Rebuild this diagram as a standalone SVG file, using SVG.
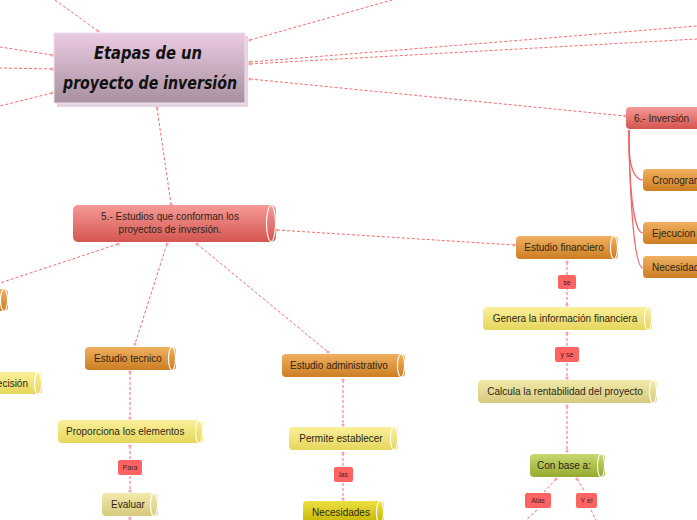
<svg xmlns="http://www.w3.org/2000/svg" width="697" height="520" viewBox="0 0 697 520">
<defs>
<linearGradient id="gMain" x1="0" y1="0" x2="0" y2="1"><stop offset="0" stop-color="#ebcbe3"/><stop offset="1" stop-color="#a8909f"/></linearGradient>
<linearGradient id="gRed" x1="0" y1="0" x2="0" y2="1"><stop offset="0" stop-color="#f69a96"/><stop offset="1" stop-color="#d45550"/></linearGradient>
<linearGradient id="gOr" x1="0" y1="0" x2="0" y2="1"><stop offset="0" stop-color="#f0b060"/><stop offset="1" stop-color="#cc7e22"/></linearGradient>
<linearGradient id="gYe" x1="0" y1="0" x2="0" y2="1"><stop offset="0" stop-color="#faf09a"/><stop offset="1" stop-color="#e6d65c"/></linearGradient>
<linearGradient id="gKh" x1="0" y1="0" x2="0" y2="1"><stop offset="0" stop-color="#f2eaaa"/><stop offset="1" stop-color="#d6ca7e"/></linearGradient>
<linearGradient id="gOl" x1="0" y1="0" x2="0" y2="1"><stop offset="0" stop-color="#ece040"/><stop offset="1" stop-color="#c4b400"/></linearGradient>
<linearGradient id="gGr" x1="0" y1="0" x2="0" y2="1"><stop offset="0" stop-color="#c8d870"/><stop offset="1" stop-color="#96aa2e"/></linearGradient>
</defs>
<style>
.c{fill:none;stroke:#f26d6d;stroke-width:1;stroke-dasharray:3 2}
.s{fill:none;stroke:#f26262;stroke-width:1.2}
.d{fill:#f5a3a3}
.cap{fill:none;stroke:#ffffff;stroke-width:1.1}
.t{font-family:"Liberation Sans",Arial,sans-serif;font-size:10px;fill:#2e2618}
.tc{text-anchor:middle}
.lb{fill:#fe6363}
.lt{font-family:"Liberation Sans",Arial,sans-serif;font-size:7px;fill:#4a2020;text-anchor:middle}
.title{font-family:"DejaVu Sans",sans-serif;font-weight:bold;font-style:italic;font-size:18px;fill:#111;text-anchor:middle}
</style>
<g id="connectors">
<path class="c" d="M98,31 L55,0"/>
<path class="c" d="M52,55 L0,47"/>
<path class="c" d="M52,69 L0,68"/>
<path class="c" d="M52,93 L0,106"/>
<path class="c" d="M250,40 L392,0"/>
<path class="c" d="M250,62 L697,26"/>
<path class="c" d="M250,64 L697,39"/>
<path class="c" d="M250,79 L625,116"/>
<path class="c" d="M157,108 L171,204"/>
<path class="s" d="M629,130 L629,143 C629,165 634,180 643,180"/>
<path class="s" d="M629,130 L629,143 C630,200 635,233 643,233"/>
<path class="s" d="M629,130 L629,143 C631,225 636,268 643,268"/>
<path class="c" d="M118,244 L0,283"/>
<path class="c" d="M167,244 L135,344"/>
<path class="c" d="M197,244 L328,352"/>
<path class="c" d="M277,230 L514,245"/>
<path class="c" d="M130,372 L130,418"/>
<path class="c" d="M130,446 L130,491"/>
<path class="c" d="M130,518 L130,520"/>
<path class="c" d="M343,380 L343,425"/>
<path class="c" d="M343,453 L343,499"/>
<path class="c" d="M567,262 L567,305"/>
<path class="c" d="M567,333 L567,378"/>
<path class="c" d="M567,406 L567,451"/>
<path class="c" d="M556,479 L544,492"/>
<path class="c" d="M537,510 L526,520"/>
<path class="c" d="M577,479 L585,492"/>
<path class="c" d="M591,510 L596,520"/>
<circle class="d" cx="98" cy="31" r="1.6"/>
<circle class="d" cx="52" cy="55" r="1.6"/>
<circle class="d" cx="52" cy="69" r="1.6"/>
<circle class="d" cx="52" cy="93" r="1.6"/>
<circle class="d" cx="250" cy="40" r="1.6"/>
<circle class="d" cx="250" cy="62" r="1.6"/>
<circle class="d" cx="250" cy="64" r="1.6"/>
<circle class="d" cx="250" cy="79" r="1.6"/>
<circle class="d" cx="625" cy="116" r="1.6"/>
<circle class="d" cx="157" cy="108" r="1.6"/>
<circle class="d" cx="171" cy="204" r="1.6"/>
<circle class="d" cx="118" cy="244" r="1.6"/>
<circle class="d" cx="167" cy="244" r="1.6"/>
<circle class="d" cx="197" cy="244" r="1.6"/>
<circle class="d" cx="277" cy="230" r="1.6"/>
<circle class="d" cx="135" cy="344" r="1.6"/>
<circle class="d" cx="328" cy="352" r="1.6"/>
<circle class="d" cx="514" cy="245" r="1.6"/>
<circle class="d" cx="130" cy="372" r="1.6"/>
<circle class="d" cx="130" cy="418" r="1.6"/>
<circle class="d" cx="130" cy="446" r="1.6"/>
<circle class="d" cx="130" cy="491" r="1.6"/>
<circle class="d" cx="130" cy="518" r="1.6"/>
<circle class="d" cx="343" cy="380" r="1.6"/>
<circle class="d" cx="343" cy="425" r="1.6"/>
<circle class="d" cx="343" cy="453" r="1.6"/>
<circle class="d" cx="343" cy="499" r="1.6"/>
<circle class="d" cx="567" cy="262" r="1.6"/>
<circle class="d" cx="567" cy="305" r="1.6"/>
<circle class="d" cx="567" cy="333" r="1.6"/>
<circle class="d" cx="567" cy="378" r="1.6"/>
<circle class="d" cx="567" cy="406" r="1.6"/>
<circle class="d" cx="567" cy="451" r="1.6"/>
<circle class="d" cx="556" cy="479" r="1.6"/>
<circle class="d" cx="577" cy="479" r="1.6"/>
</g>
<g id="main">
<rect x="57" y="36" width="191" height="71" fill="#e4d4e2"/>
<rect x="54" y="33" width="191" height="70" fill="url(#gMain)" stroke="#eee0ee" stroke-width="1"/>
<text class="title" x="148" y="59" textLength="108" lengthAdjust="spacingAndGlyphs">Etapas de un</text>
<text class="title" x="150" y="89" textLength="174" lengthAdjust="spacingAndGlyphs">proyecto de inversión</text>
</g>
<g id="n6">
<rect x="626" y="107" width="80" height="22" rx="4" fill="url(#gRed)"/>
<text class="t" x="634" y="122">6.- Inversión</text>
</g>
<g id="cronograma">
<rect x="643" y="169" width="70" height="22" rx="4" fill="url(#gOr)"/>
<text class="t" x="652" y="184">Cronograma</text>
</g>
<g id="ejecucion">
<rect x="643" y="222" width="70" height="22" rx="4" fill="url(#gOr)"/>
<text class="t" x="652" y="237">Ejecucion</text>
</g>
<g id="necesidades-inv">
<rect x="643" y="256" width="70" height="22" rx="4" fill="url(#gOr)"/>
<text class="t" x="652" y="271">Necesidades</text>
</g>
<g id="n5">
<rect x="73" y="205" width="203" height="37" rx="5" fill="url(#gRed)"/>
<ellipse class="cap" cx="271" cy="223.5" rx="4.5" ry="18"/>
<text class="t tc" x="170" y="220">5.- Estudios que conforman los</text>
<text class="t tc" x="170" y="233">proyectos de inversión.</text>
</g>
<g id="left-orange">
<rect x="-40" y="289" width="48" height="22" rx="4" fill="url(#gOr)"/>
<ellipse class="cap" cx="4" cy="300" rx="3.5" ry="11"/>
</g>
<g id="left-yellow">
<rect x="-40" y="372" width="82" height="22" rx="4" fill="url(#gYe)"/>
<ellipse class="cap" cx="38" cy="383" rx="3.5" ry="11"/>
<text class="t" x="28" y="387" text-anchor="end">ecisión</text>
</g>
<g id="tecnico">
<rect x="85" y="347" width="91" height="23" rx="4" fill="url(#gOr)"/>
<ellipse class="cap" cx="172" cy="358.5" rx="3.5" ry="11.5"/>
<text class="t tc" x="128" y="362">Estudio tecnico</text>
</g>
<g id="proporciona">
<rect x="58" y="420" width="145" height="23" rx="4" fill="url(#gYe)"/>
<ellipse class="cap" cx="199" cy="431.5" rx="3.5" ry="11.5"/>
<text class="t" x="66" y="435">Proporciona los elementos</text>
</g>
<g id="lbl-para">
<rect class="lb" x="118" y="460" width="24" height="15" rx="2"/>
<text class="lt" x="130" y="470">Para</text>
</g>
<g id="evaluar">
<rect x="102" y="493" width="56" height="23" rx="4" fill="url(#gKh)"/>
<ellipse class="cap" cx="154" cy="504.5" rx="3.5" ry="11.5"/>
<text class="t tc" x="128" y="508">Evaluar</text>
</g>
<g id="administrativo">
<rect x="282" y="354" width="123" height="23" rx="4" fill="url(#gOr)"/>
<ellipse class="cap" cx="401" cy="365.5" rx="3.5" ry="11.5"/>
<text class="t" x="290" y="369">Estudio administrativo</text>
</g>
<g id="permite">
<rect x="289" y="427" width="109" height="23" rx="4" fill="url(#gYe)"/>
<ellipse class="cap" cx="394" cy="438.5" rx="3.5" ry="11.5"/>
<text class="t tc" x="341" y="442">Permite establecer</text>
</g>
<g id="lbl-las">
<rect class="lb" x="334" y="467" width="19" height="15" rx="2"/>
<text class="lt" x="343.5" y="477">las</text>
</g>
<g id="necesidades">
<rect x="303" y="501" width="81" height="23" rx="4" fill="url(#gOl)"/>
<ellipse class="cap" cx="380" cy="512.5" rx="3.5" ry="11.5"/>
<text class="t tc" x="341" y="516">Necesidades</text>
</g>
<g id="financiero">
<rect x="516" y="236" width="102" height="23" rx="4" fill="url(#gOr)"/>
<ellipse class="cap" cx="614" cy="247.5" rx="3.5" ry="11.5"/>
<text class="t tc" x="564" y="251">Estudio financiero</text>
</g>
<g id="lbl-se">
<rect class="lb" x="558" y="275" width="18" height="14" rx="2"/>
<text class="lt" x="567" y="284.5">se</text>
</g>
<g id="genera">
<rect x="483" y="307" width="169" height="23" rx="4" fill="url(#gYe)"/>
<ellipse class="cap" cx="648" cy="318.5" rx="3.5" ry="11.5"/>
<text class="t tc" x="565" y="322">Genera la información financiera</text>
</g>
<g id="lbl-yse">
<rect class="lb" x="555" y="347" width="24" height="15" rx="2"/>
<text class="lt" x="567" y="357">y se</text>
</g>
<g id="calcula">
<rect x="478" y="380" width="179" height="23" rx="4" fill="url(#gKh)"/>
<ellipse class="cap" cx="653" cy="391.5" rx="3.5" ry="11.5"/>
<text class="t tc" x="565" y="395">Calcula la rentabilidad del proyecto</text>
</g>
<g id="conbase">
<rect x="530" y="454" width="75" height="23" rx="4" fill="url(#gGr)"/>
<ellipse class="cap" cx="601" cy="465.5" rx="3.5" ry="11.5"/>
<text class="t tc" x="564" y="469">Con base a:</text>
</g>
<g id="lbl-alas">
<rect class="lb" x="525" y="493" width="26" height="15" rx="2"/>
<text class="lt" x="538" y="503">Alas</text>
</g>
<g id="lbl-yel">
<rect class="lb" x="576" y="493" width="21" height="15" rx="2"/>
<text class="lt" x="586.5" y="503">Y el</text>
</g>
</svg>
